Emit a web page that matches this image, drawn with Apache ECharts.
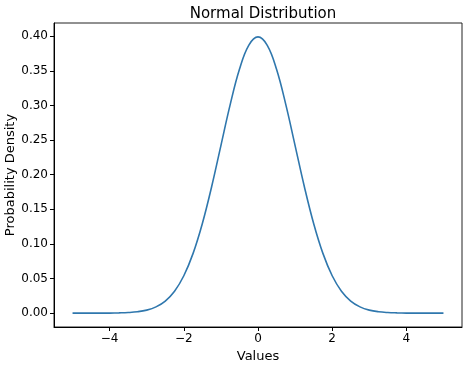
<!DOCTYPE html>
<html><head><meta charset="utf-8">
<script src="https://cdn.jsdelivr.net/npm/echarts@6/dist/echarts.min.js"></script>
<style>html,body{margin:0;padding:0;background:#fff}#c{width:474px;height:366px}</style>
</head><body><div id="c"></div>
<script>
const xValues = [-5,-4.75,-4.5,-4.25,-4,-3.75,-3.5,-3.25,-3,-2.75,-2.5,-2.25,-2,-1.75,-1.5,-1.25,-1,-0.75,-0.5,-0.25,0,0.25,0.5,0.75,1,1.25,1.5,1.75,2,2.25,2.5,2.75,3,3.25,3.5,3.75,4,4.25,4.5,4.75,5];
const density = [0,0,0,0,0.0001,0.0004,0.0009,0.0020,0.0044,0.0091,0.0175,0.0317,0.0540,0.0863,0.1295,0.1826,0.2420,0.3011,0.3521,0.3867,0.3989,0.3867,0.3521,0.3011,0.2420,0.1826,0.1295,0.0863,0.0540,0.0317,0.0175,0.0091,0.0044,0.0020,0.0009,0.0004,0.0001,0,0,0,0];
const xTicks = [-4,-2,0,2,4];
const yTicks = [0,0.05,0.10,0.15,0.20,0.25,0.30,0.35,0.40];
const FONT = 'DejaVu Sans';
const chart = echarts.init(document.getElementById('c'), null, {renderer:'canvas'});
const axisCommon = {
  axisLine:{show:true,onZero:false,lineStyle:{color:'#000',width:1}},
  splitLine:{show:false},
  nameMoveOverlap:false,
  nameTextStyle:{color:'#000',fontFamily:FONT,fontSize:13}
};
chart.setOption({
  animation:false,
  title:{text:'Normal Distribution',left:258,top:2,textAlign:'center',
    textStyle:{fontFamily:FONT,fontSize:15,fontWeight:'normal',color:'#000'}},
  grid:{left:54,right:12,top:23,bottom:39,containLabel:false,outerBoundsMode:'none',
    show:true,borderColor:'#222',borderWidth:1,backgroundColor:'#fff'},
  xAxis:Object.assign({}, axisCommon, {
    type:'value',min:-5.5,max:5.5,
    name:'Values',nameLocation:'middle',nameGap:23,
    axisTick:{show:true,length:4,lineStyle:{color:'#000'},customValues:xTicks},
    axisLabel:{customValues:xTicks,color:'#000',fontFamily:FONT,fontSize:12,margin:6,
      formatter:v=>String(v).replace('-','\u2212')}
  }),
  yAxis:Object.assign({}, axisCommon, {
    type:'value',min:-0.02,max:0.419,
    name:'Probability Density',nameLocation:'middle',nameGap:37,
    axisTick:{show:true,length:4,lineStyle:{color:'#000'},customValues:yTicks},
    axisLabel:{customValues:yTicks,color:'#000',fontFamily:FONT,fontSize:12,margin:6,
      formatter:v=>v.toFixed(2)}
  }),
  series:[{type:'line',data:xValues.map((x,i)=>[x,density[i]]),smooth:0.4,showSymbol:false,
    lineStyle:{color:'#2f77ad',width:1.6}}]
});
</script></body></html>
